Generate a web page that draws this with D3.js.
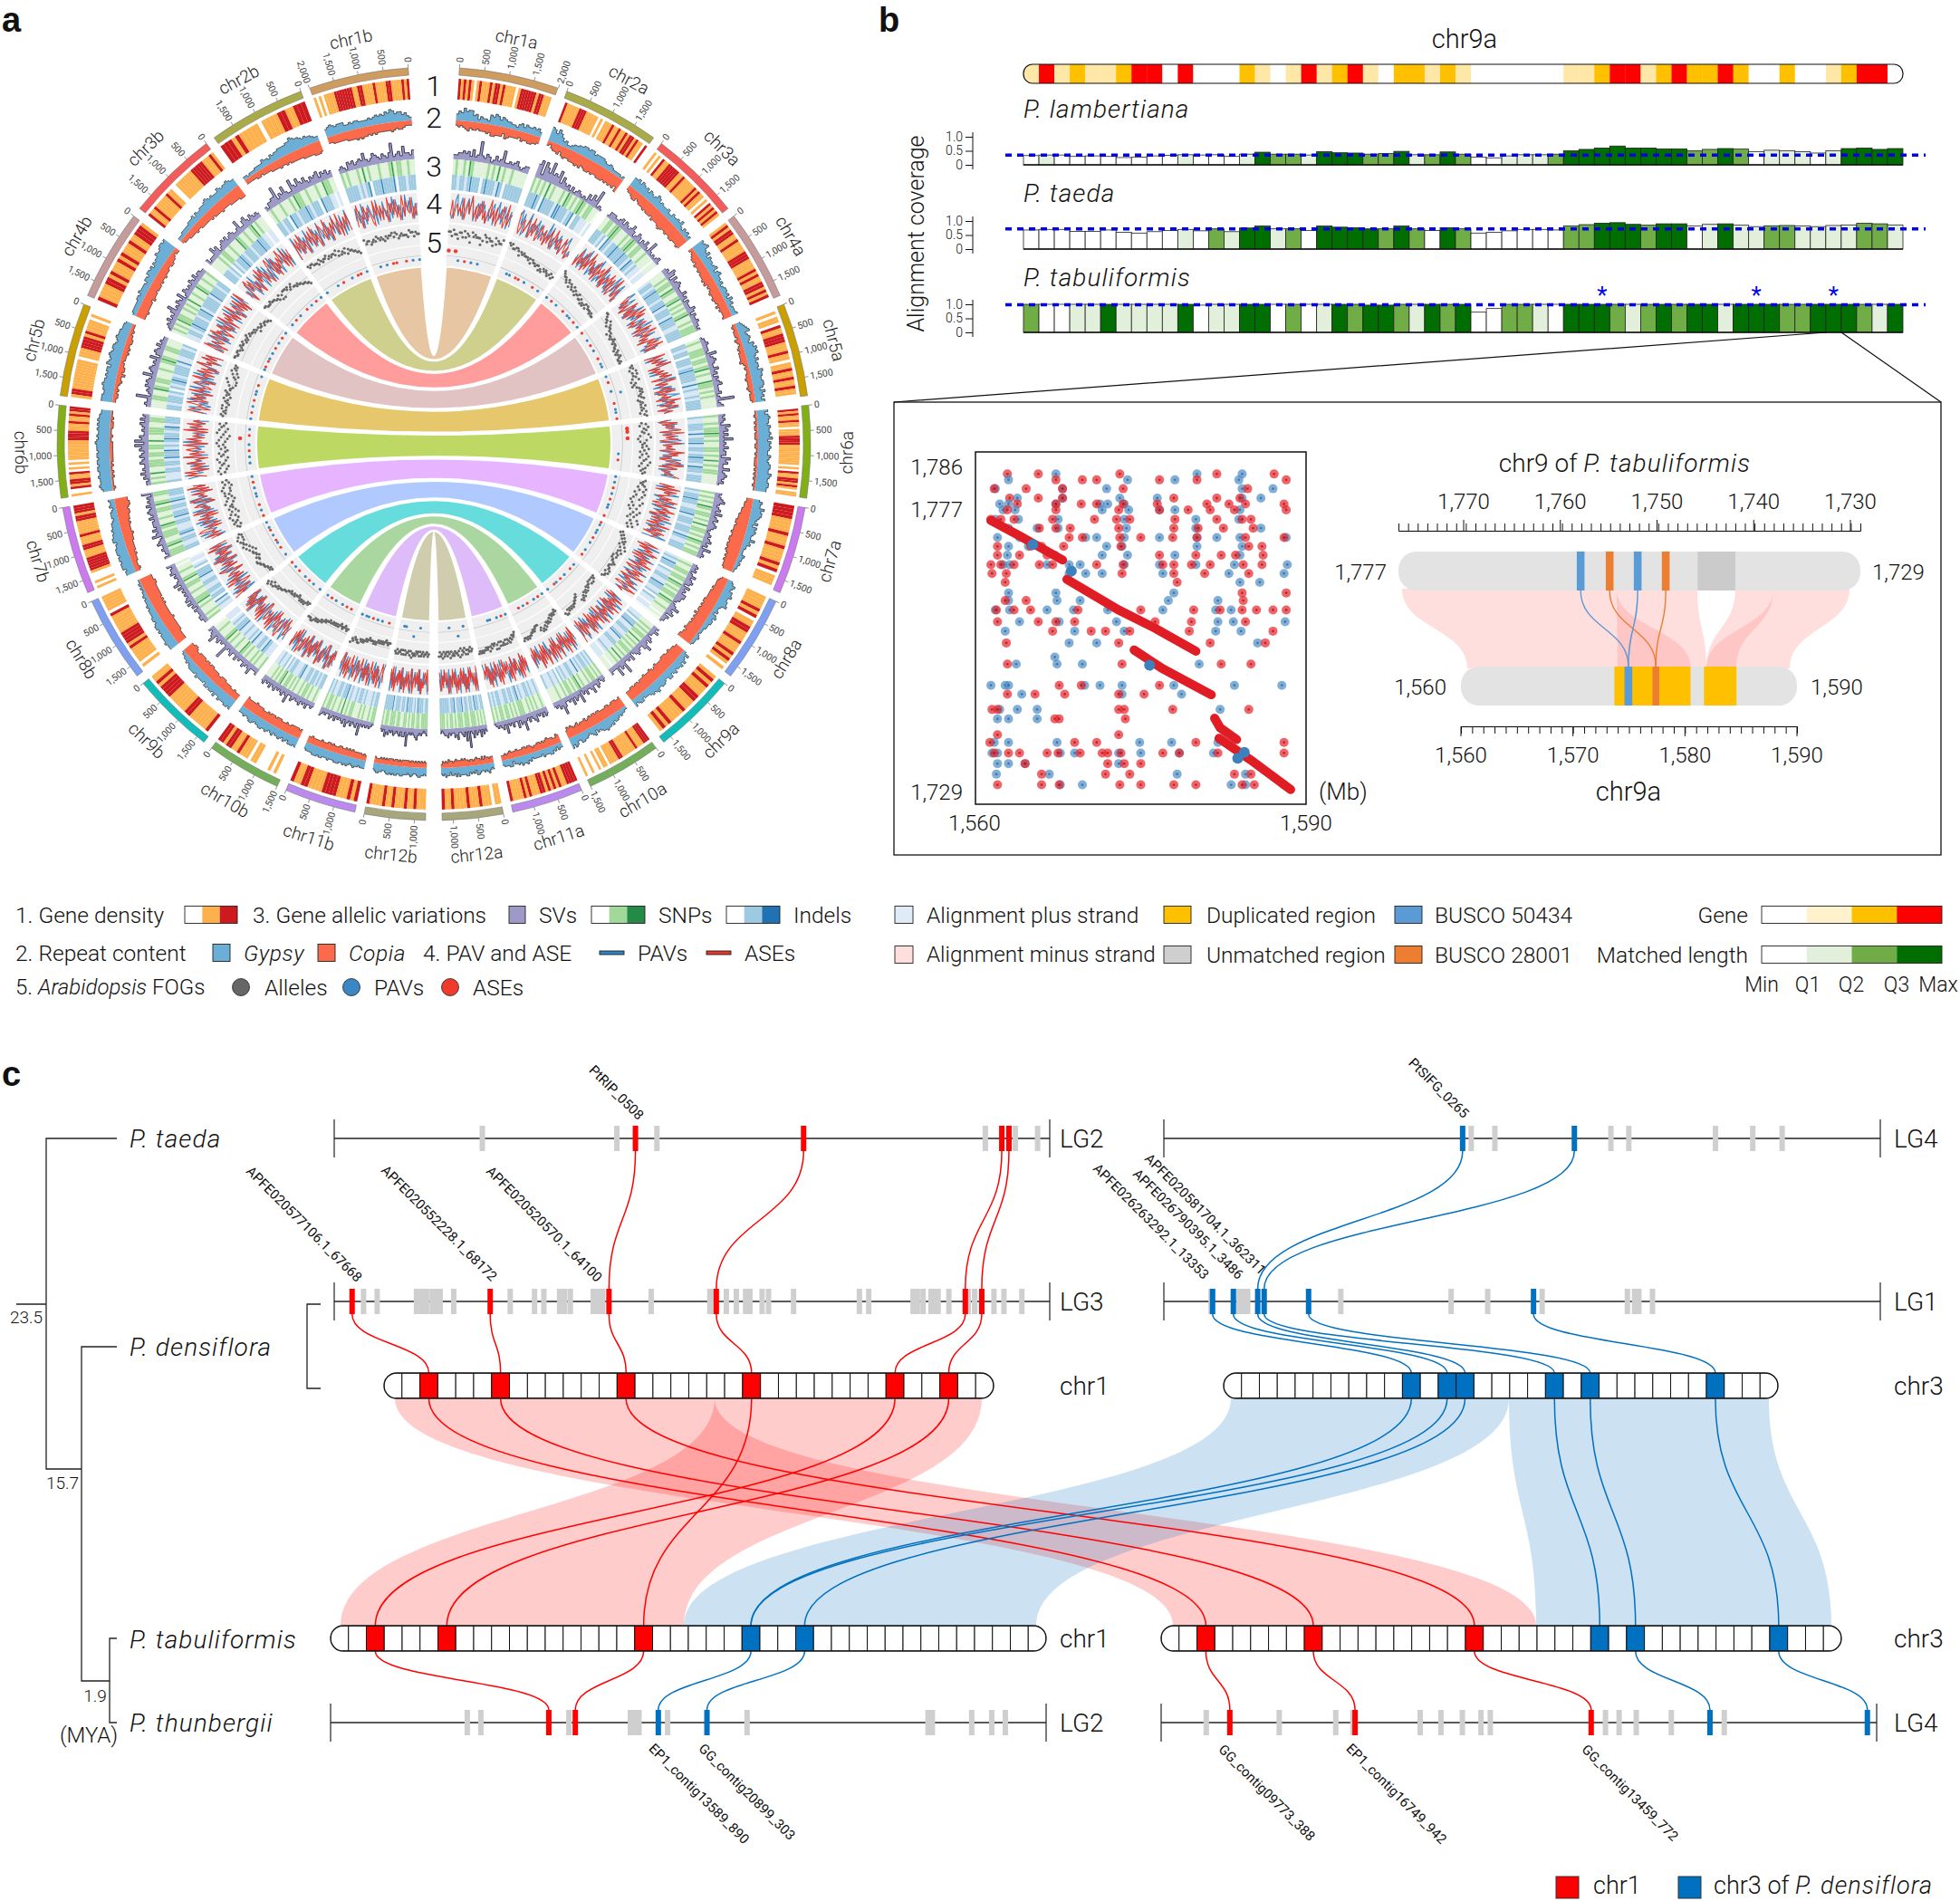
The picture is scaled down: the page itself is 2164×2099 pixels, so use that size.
<!DOCTYPE html>
<html><head><meta charset="utf-8">
<script src="https://cdnjs.cloudflare.com/ajax/libs/d3/7.8.5/d3.min.js"></script>
<style>html,body{margin:0;padding:0;background:#fff}svg{display:block}text{font-family:Roboto,"Liberation Sans",sans-serif;font-weight:300;fill:#111}</style>
</head><body><svg id="c" width="2164" height="2099"></svg>
<script>
// ---------- PANEL A DATA (one string per chromosome 1..12; each character = one bin, estimated by eye) ----------
const chrLengths=[1990,1950,1845,1820,1870,1845,1755,1730,1675,1505,1430,1220];
const chrTicks=[[0,500,1000,1500,2000],[0,500,1000,1500],[0,500,1000,1500],[0,500,1000,1500],[0,500,1000,1500],[0,500,1000,1500],[0,500,1000,1500],[0,500,1000,1500],[0,500,1000,1500],[0,500,1000,1500],[0,500,1000],[0,500,1000]];
const chrColors=["#CF9C60","#A9AA48","#F45B5B","#C59B9B","#C9A000","#82AE16","#CC7AF0","#7F9FF2","#12BDB9","#74AE5A","#BB8AEE","#A7A77B"];
const linkColors=["#E6C6A3","#CFCF8E","#FF9C9C","#E2C3C3","#E6C76C","#BDD963","#E7B5FF","#B0CAFF","#66DDDC","#AAD7A0","#DDBCF9","#CFCDAE"];
const geneA=["2121210121112122121111012222221221110","0211111222111110101112112112122121102","1010211222221121111121211010212121","1212211211112221111212112212120","0101102112221112110112112112110","0212112110111222211111111101021122121011","2222111121112111121201110","1111212011221112111212101","1212111221112111121210","222111211111122111101101001001","2222112121212211121211112","1101112111211112112"];
const geneB=["2121111221111211112211222222211110101","2221122111101111121222","1211122222111111100112111112112","1222112111212111212211112","0010111121222211101111111111221","2212112111222211111111010102112212001","22212211111211122111222221000101","111110211111122221211111010","112122221111112211111120","22122112111011000010100","2112211112222111212","2111121121112112111"];
const gypsyA=["465867745243326576465443324535445453","986975342234455665664555543343222212","667576564654576454445335445463243423","878965746554563564434234434253423334","345674565476878657566587766776475646","757877687787968787668767887798778877","465586776546365654474533222433232211","346546675566743342453443332221232221","253464655465466445665576565444355435","223343455465667665453654345566446757","334243554445344444354655645442554443","434654544566354546655556464553556454"];
const copiaA=["343456455455565776664765555465566554","324556467667778786788787788878787869","344566456667677768777898778778877787","323455465565666767565676676657565556","232333243234344445323223343334323332","112112122122211221121222212121211211","445556667778878889889989989878787776","456666767777788787887978787888978899","667778778887777876787778777677677666","766777667766667767767657666576567675","564455565454554434554554445444543433","443445353445434434454544454344534342"];
const gypsyB=["235466578675656545444455454466656765","334556567789776666554534453333222122","556766567555656765554453544433333222","989987786656465664553444453443333332","455566676567767876785776767787766777","667787878778789888788788788778777876","433423444345556566775667776776777566","112121223233343444455456656566667666","122334345555465555466566575576667767","444544566545566556545645565465466656","455556665665556555666556565456554555","456655445665656655665554565445665545"];
const copiaB=["333455456555555656566767666655555544","788877777666666565565555444434433333","888777776666766665655555544544443332","332344554455565565666566675666667666","222323344334343332334435334322323322","111212221112112222222221211212111121","889987887776766667666555554544433343","888998888888787877777778777777766666","778876677776776776666556665555445444","766666766665556566656665556556666656","445444445444554544455445454544444343","433343434344434434344444344343434343"];
const svA=["223343425239324312423722323421233","682864945472532313123212142538121","133322342432353124313242162121231","232541423432224231322243132232212","122322215234322423132342223128123","323215342426232423315342252343231","323453234252342343212323423152232","232312423431423244332123523413221","324221342364223432142322734262223","232134225322423162342523224734232","342423254324237342522423262432321","324252342532926243225342232433212"];
const svB=["423362432842342345323634324341232","324342543423534634722363428443312","232342354226322343243432143522213","223324234232342152342326423242321","223242343152323432623434232172232","324243232243626342342342232423122","513232423432423332423512342232213","423342322352423232342423132223322","323462342322832342242322432352223","342324234232342362243233423242232","432322432423234253242342723232321","232534232432342442832323453232123"];
const snpA=["1211213211111212131211211111","2121213121112132121232122110","1122123211121232122112111011","1112122132112312121231121222","1211222122123121132212121111","2112122321211221213121221111","2121213212212131221213212122","1211221221321212213211211010","1121212213121212212131211011","2121221211213212122121121111","1211212121122212121221221212","2121212221222122212122121222"];
const indelA=["2212212322202322213202222222","2223203222213322212302211101","2221203212232223221321211011","1221232221223122213222112222","2212202221232222131211212222","2112221312231221232213221222","2122322112231222122213211222","1213220211221132211202110110","1120223112211231122111210111","2121221213112211212021121112","1211212211213212212211221212","2212231221221322213221222222"];
const snpB=["1121122132111211121312111212","1122311211121122312111211121","1112132112112311121122121111","2112112311211312121122312121","1112211232112111221231122111","1221122211312212212221131212","2211231221121132122211231222","1011211231221121122312111212","0112111231211211321211212112","1112121231221212112122121121","2122121121312122111212112122","2122122212211221212212212222"];
const indelB=["2221222032222322203212122222","1011222302221232221223022122","1101122322212221232212021222","2212223122222132212223212211","2122211312222123212021222122","2221321223212132231221221112","2221231221223122111231221122","0110120222311221122122031211","1110121223112112131122132111","1121120212211123112212212122","2121122122312112122121112122","2222231222122132221213222122"];
const pavA=["3137925814683961572847316268159372846172","7948125916364837254619382516372416583142","5286172935841627395142681735261493725841","6925813471692538147263915724382516934172","2617384925161748395261738146925371648253","5127364815273681925361472518369247153627","3618274951362849137264815392746183527491","4719365281749253618472951637428159364725","3728159462738159264837152964738251693472","6183927451836294715283946172538491627384","4826173958264173859264317582649173825641","2938471625938174629385174263918472536184"];
const aseA=["2714635281473952617382514936271548319256","8315624731826513742615273184526317425123","4172538162947352816473925164827315942613","7362514826173958241673528149362517483926","1826374915263748159263471825361947285163","4172635819263714825361947251683917425368","2739184652739418265937148263519427381654","3816274952618374925613847296153748219635","2518463729158364729518463728195463827159","5172846392715384629173854692718394625173","3627194852637194825361749285163749281536","1849362517483926157384926175389264173852"];
const pavB=["2618374925163849271538462917358462917384","4927183562937418265391748256391748265391","5183927461538294716283951748263915748263","3719264815372918463729185463728196473825","2738164925138492716385492718364925138472","1625374816253749182536471925384716253948","5392817463928174639281746392817463592814","4829371658294716382947165382916473829516","3618472915364827196354827196358247169358","6827391548627391548263715948263719548267","4719283657491826375491826375941826375941","2938174625391847265389174265381947265389"];
const aseB=["6251834729516283749156273849126738451962","2847361925847163925784163928475163928471","7361825947361825974136285947136258497136","5916283471592638471952638417592683471592","1738264951738264951783264915738269451783","4628371915462837195486273915482637195842","7392618453792168453792618457326189453726","2849517362849157362984157362849513762849","6173849251673849215763849251763892451763","3825164973825619473825164973852164973825","5147382961547832961547382691547382965147","2618495372618459372681495372618495732618"];
const alleleA=["664755366474652756555247646553746557","767556653545444342433233121323212312","876654653543534233422312123132221211","887665746554243323432332213212321121","656475756473543567676567456575657467","463756457382635464753647365847365465","765674857384736283742638574638596475","435465767586976867575667876677868776","343535344546565767873445566767676887","323434354656576878674445656677878778","234354654646564647574546575656676767","453546463546374655465647546456475646"];
const alleleB=["556466745556546757665645656756546657","233445564756575867767687767867778878","122333445455765767774647566777877788","233443544535656676876768778767887788","656574635483736455765647565475756576","475637485263748574634756384756374857","574637484757463748565746375847567465","768696877685746355443544665544433232","786757665655544433233232212323232121","666776565654543433233232323212321232","756455664545434323334343232323212322","564655464646554647565645464654655465"];
const fogA=["R.Rb.r.b.b.....","..bb.rr.b..r.b.","b.r.b..r.bb.r.b","r..b.r.b..r.bb.","b.r..bB..r.bb.r",".RR.R....b.r...","b.b.r.b.r.bb..r","rb.bb.r.b..b.r.",".b.r..b.r.br..b","b.r.b..r.b.r...","b.r.b..bb......","..b..B...b....."];
const fogB=["b.b.r..rr.b.b..","b.rr.b..r.b...b","b.r.b.r..b.r.b.","b.r.b.r.b.br.rb","b..r.bb.r.b.r.b",".b.rR.b.r.b.b..","b.r.b.bb..r.b.r","b.br.b.rb.r..b.","r.b.r..b.r.b..b",".b.r.b..b.r.r..","b.bb.r.b.b..r..","..bb...B..b...."];

// ---------- PANEL B DATA ----------
const heat9a=[1,3,1,2,1,1,2,3,3,0,3,0,0,0,2,1,0,1,3,1,2,3,1,0,2,2,1,2,1,0,0,0,0,0,0,1,1,2,3,3,1,2,3,2,2,3,2,0,0,2,0,0,1,2,3,3,0];
const lambertianaValues=[.33,.35,.35,.3,.32,.3,.26,.27,.32,.34,.36,.35,.36,.3,.38,.45,.38,.38,.35,.47,.43,.42,.38,.4,.48,.36,.36,.46,.38,.27,.25,.32,.36,.36,.38,.5,.55,.6,.67,.6,.6,.57,.57,.5,.55,.58,.56,.47,.52,.5,.47,.42,.5,.58,.6,.55,.58];
const lambertianaClass=[0,1,0,0,0,0,0,0,0,0,1,0,0,0,1,3,2,2,1,3,3,3,2,2,3,1,2,3,2,0,0,1,1,1,2,3,3,3,3,3,3,3,3,2,2,3,2,0,1,1,1,0,1,3,3,3,3];
const taedaValues=[.68,.7,.7,.63,.63,.68,.6,.57,.62,.66,.7,.65,.72,.62,.75,.82,.72,.72,.66,.82,.78,.76,.72,.72,.82,.72,.66,.76,.72,.57,.6,.65,.7,.7,.68,.82,.87,.92,.94,.88,.85,.9,.9,.82,.88,.9,.85,.8,.83,.84,.82,.8,.84,.86,.92,.9,.86];
const taedaClass=[0,0,0,0,0,0,0,0,0,0,1,0,2,1,3,3,1,2,0,3,3,3,3,2,3,2,0,3,2,0,0,0,0,0,0,2,2,3,3,3,2,3,3,0,1,3,1,1,2,2,1,1,1,1,2,2,1];
const tabuliformisValues=[1,1,1,1,1,1,1,1,1,1,1,.97,1,1,1,1,1,1,1,1,1,1,.97,.97,1,1,1,1,1,.72,.85,1,1,1,1,1,1,1,1,1,1,1,1,1,1,1,1,1,1,1,1,1,1,1,1,1,1];
const tabuliformisClass=[2,0,0,1,1,3,1,1,1,1,3,0,1,1,3,3,0,2,0,1,3,2,3,3,2,1,3,2,3,0,0,2,2,1,0,3,3,3,2,1,2,3,2,3,3,1,3,3,3,2,2,3,3,3,2,1,3];
const starBins=[37,47,52];
const coverageThresholds=[.35,.72,.98];
// dot plot: [y Mb, red x Mb list, blue x Mb list]
const dotRows=[
[1783.1,[1562.9,1565.7,1573.1,1581.9,1587.1],[1567.3,1580.1,1584.2]],
[1782.1,[1569.7,1571,1567.3,1576.7,1580.1,1588.2],[1563,1573.8,1578.1,1583.9]],
[1780.6,[1561.7,1564.6,1567.9,1573.4,1584.7],[1561.8,1567.9,1571.9,1584.2,1587]],
[1779,[1563.1,1565.7,1567.9,1578,1581.9,1584],[1563.8,1567.9,1573.1,1576.5,1584.2,1585.9]],
[1778,[1563.8,1567.3,1569.6,1571,1573.4,1576.5,1581,1583,1584.5,1588],[1562.2,1563,1567.3,1571.3,1572,1573.5]],
[1777,[1562.9,1567.3,1573,1576.7,1579.3,1581.3,1583.5,1588.2],[1562.5,1563.6,1571.5,1573.9,1576.7,1578.1,1584]],
[1775.4,[1561.4,1562.3,1563.5,1567,1570.8,1572.8,1574,1578.1,1581.9,1584.2,1585],[1561.8,1563.9,1567.5,1573.5,1580,1583.9]],
[1773.9,[1565.8,1567.3,1568.6,1573,1578,1580.2,1582.5,1585.2],[1563,1565.6,1567.5,1573.7,1580,1585.9]],
[1772.3,[1568.5,1569.7,1573.1,1575,1577.9,1580.1,1584.5,1588],[1562,1564,1570,1571,1573.5,1576.7,1580.1,1581.9,1584,1588.2]],
[1770.8,[1562,1565,1566,1568,1573.2,1584.8,1586],[1563,1564.8,1571.9,1573.3,1580.1,1584.2]],
[1769.3,[1562,1564,1566.5,1576.7,1580,1582.3,1583.6,1586.1],[1562.9,1567.2,1571.5,1573.8,1578.1,1584]],
[1767.7,[1561.4,1562.3,1563.5,1565.8,1567,1571,1573.4,1577,1578,1579.6,1581.3,1584.3,1586],[1562.5,1563.1,1566.5,1568.5,1569.5,1573.5,1576.7,1580,1583.5,1588.3]],
[1766.2,[1561.5,1562.8,1573.3,1578,1580.8,1584.8],[1568.5,1570,1571.5,1577,1583,1588]],
[1764.7,[1562.7,1578.3],[1584,1585.8]],
[1762.9,[1584.2,1588.2],[1563,1567.3,1578]],
[1761.6,[1562.7,1564.6,1584.3],[1563,1567.4,1569.5,1577.5,1582]],
[1760,[1561.9,1563.5,1565,1569.3,1575,1579.8,1582.2,1584.2,1585.5,1587,1588.2],[1561.8,1563.1,1566.5,1568.9,1572,1577,1581.8,1583.2]],
[1758,[1562,1565.7,1567.3,1569,1576.3,1579.6,1584.5],[1564,1567.6,1572.8,1582,1583.4,1588.1]],
[1756.4,[1567,1570.5,1571.8,1574,1579.4,1587],[1562.7,1569,1573.5,1581.8,1584.1]],
[1754.4,[1562.8,1573,1581.3,1586.3],[1568.5,1571,1585.6]],
[1752,[],[1567.2]],
[1750.8,[1562.9,1573.3,1582.3,1585],[1563.7,1567.4,1569.7,1580.3]],
[1747.2,[1567.6,1569.6,1576.7],[1561.4,1562.7,1563,1569.9,1571.3,1573.3,1578,1583.5,1587.8]],
[1745.7,[1562.9,1565.4,1568.1,1573,1575.3],[1564.2,1573.3,1578.7]],
[1743.1,[1561.5,1562,1573,1573.5,1577.9,1584.8],[1563.8,1562.2,1565.6,1582.2]],
[1741.5,[1567.2,1567.6,1573.6],[1562,1563,1565.6]],
[1738.8,[1562,1573],[]],
[1737.5,[1561.3,1569,1571,1580,1588],[1561.7,1563,1567.4,1574.9,1577.8,1582]],
[1735.7,[1561.7,1563,1564,1566.5,1567.5,1569.5,1571.5,1572,1573.2,1577,1578.5,1582,1588],[1561.5,1562,1567.7,1569,1573,1575,1578.5,1581.6]],
[1733.9,[1564.5,1572,1573.5,1575],[1562,1563,1564.5,1573]],
[1732.1,[1566,1571.8,1574,1583.5,1585],[1561.9,1566.7,1578.3,1584.5]],
[1730.3,[1562,1566,1567.6,1573.1,1575,1578,1580,1584.2,1585.3],[1567.7,1569.7,1583.2,1584.5,1588]]];
// diagonal synteny blocks as [x,y] Mb pairs
const syntenySegments=[[[1561.4,1775.2],[1564,1772.6],[1567.9,1768.5]],[[1568.3,1765.2],[1573,1760],[1576.4,1756.8],[1580,1753]],[[1574.4,1753.2],[1577,1750],[1581.4,1745.6]],[[1581.7,1741.6],[1582.2,1740],[1583.7,1738]],[[1582.1,1738.2],[1585,1734.5],[1588.6,1729.5]]];
const syntenyBlobs=[[1565.2,1771.1],[1568.7,1766.6],[1575.8,1750.6],[1584.4,1735.8],[1583.8,1734.8]];
const topBusco=[[1758.3,1757.5,"#5B9BD5"],[1755.3,1754.5,"#ED7D31"],[1752.4,1751.6,"#5B9BD5"],[1749.5,1748.7,"#ED7D31"]];
const topUnmatched=[1745.8,1741.9];
const bottomDuplicated=[[1573.7,1580.5],[1581.7,1584.6]];
const bottomBusco=[[1574.6,1575.3,"#5B9BD5"],[1577.1,1577.7,"#ED7D31"]];

// ---------- PANEL C DATA (gene positions as % of linkage group, chromosome cells by index) ----------
const taedaLG2Grey=[20.7,39.5,45.1,91,95.2,98.3], taedaLG2Red=[42.1,65.6,93.3,94.3];
const taedaLG4Grey=[42.9,46.2,62.4,64.9,77,82.2,86.3], taedaLG4Blue=[41.7,57.3];
const densLG3Grey=[4.1,6,11.5,12.2,12.9,13.7,14.3,14.8,16.7,24.6,28,29.3,31.5,32.2,33,36.2,36.9,37.5,44.3,52.5,53.1,54.8,56.2,57.5,58.1,59.8,60.7,64.2,73.4,74.7,80.9,81.5,82.3,83.4,84,84.4,85.9,88.6,89.5,90.5,92.2,93.6,96.1], densLG3Red=[2.5,21.8,38.4,53.4,88.2,90.5];
const densLG1Grey=[6.6,10.5,11,11.7,24.7,40.1,45.2,52.8,64.7,65.7,66.3,68.2], densLG1Blue=[6.8,9.7,13.1,14,20.2,51.6];
const thunLG2Grey=[19.1,21,33.3,41.9,42.6,43.1,47.1,58.2,83.5,84.1,89.6,92.4,94.3], thunLG2Red=[30.5,34.2], thunLG2Blue=[45.8,52.6];
const thunLG4Grey=[6.3,16.5,24.4,26.8,36.2,39.1,42.1,44.7,46,62.1,64,66.4,71.3,78.7], thunLG4Red=[9.6,27.1,60.1], thunLG4Blue=[76.7,98.7];
const densChr1Cells=[2,6,13,20,28,31], densChr3Cells=[10,12,13,18,20,27];
const tabChr1Red=[2,6,17], tabChr1Blue=[23,26], tabChr3Red=[2,8,17], tabChr3Blue=[24,26,34];
const labelsTop=[["PtRIP_0508",708,1234],["APFE020577106.1_67668",397,1413],["APFE020552228.1_68172",546,1412],["APFE020520570.1_64100",662,1413],["PtSIFG_0265",1619,1232],["APFE020581704.1_362311",1395,1405],["APFE026790395.1_3486",1370,1410],["APFE026263292.1_13353",1332,1410]];
const labelsBottom=[["EP1_contig13589_890",719,1928],["GG_contig20899_303",774,1928],["GG_contig09773_388",1348,1929],["EP1_contig16749_942",1489,1928],["GG_contig13459_772",1749,1929]];

// ---------- DRAW ----------
const svg=d3.select("#c");
const RED="#FF0000",BLUE="#0070C0",GREY="#CFCFCF";
function T(g,x,y,s,o={}){const t=g.append("text").attr("x",x).attr("y",y).attr("dominant-baseline","central").attr("font-size",o.size||24).attr("text-anchor",o.anchor||"start");
 if(o.italic)t.attr("font-style","italic").style("letter-spacing",(o.spacing||1.1)+"px"); if(o.bold){t.style("font-weight",900).style("font-family","'Liberation Sans',sans-serif");} if(o.fill)t.style("fill",o.fill); if(o.weight)t.style("font-weight",o.weight);
 if(o.rotate!=null)t.attr("transform",`rotate(${o.rotate},${x},${y})`);
 if(Array.isArray(s))s.forEach(p=>{const ts=t.append("tspan").attr("font-style",p[1]?"italic":"normal").text(p[0]);if(p[1])ts.style("letter-spacing",(p[2]!=null?p[2]:1.1)+"px");}); else t.text(s); return t;}
T(svg,2,22,"a",{size:38,bold:1}); T(svg,970,22,"b",{size:38,bold:1}); T(svg,2,1186,"c",{size:38,bold:1});

// ---- panel a ----
const A=svg.append("g").attr("transform","translate(479,490)");
const degPerMb=0.0077,gapDeg=1.45,startDeg=3.9,tau=2*Math.PI,rad=d=>d*Math.PI/180;
const sectors=[];let cursor=startDeg;
chrLengths.forEach((L,i)=>{const s=cursor,e=cursor+L*degPerMb;sectors.push({i,L,s:rad(s),e:rad(e)});cursor=e+gapDeg;});
const sides=[{suffix:"a",mirror:false,gene:geneA,gyp:gypsyA,cop:copiaA,sv:svA,snp:snpA,ind:indelA,pav:pavA,ase:aseA,al:alleleA,fog:fogA},
             {suffix:"b",mirror:true ,gene:geneB,gyp:gypsyB,cop:copiaB,sv:svB,snp:snpB,ind:indelB,pav:pavB,ase:aseB,al:alleleB,fog:fogB}];
const arc=d3.arc();
const ar=(g,r0,r1,a0,a1,fill,extra)=>{const p=g.append("path").attr("d",arc({innerRadius:r0,outerRadius:r1,startAngle:Math.min(a0,a1),endAngle:Math.max(a0,a1)})).attr("fill",fill);if(extra)p.attr("stroke",extra).attr("stroke-width",.6);return p;};
const nums=s=>s.split("").map(Number);
const ribbon=d3.ribbon().radius(196);
sectors.forEach(s=>{A.append("path").attr("d",ribbon({source:{startAngle:s.s,endAngle:s.e},target:{startAngle:tau-s.e,endAngle:tau-s.s}})).attr("fill",linkColors[s.i]).attr("stroke","#fff").attr("stroke-width",2);});
const geneCol=["#FFFFFF","#FDB04B","#CC1A1F"],snpCol=["#F3FAF0","#E0F2DA","#A1D99B","#238B45"],indCol=["#F3F8FC","#D6E6F4","#9ECAE1","#2171B5"];
sides.forEach(side=>{sectors.forEach(sec=>{
  const i=sec.i,g=A.append("g");
  const ang=d3.scaleLinear().domain([0,sec.L]).range(side.mirror?[tau-sec.s,tau-sec.e]:[sec.s,sec.e]);
  const bin=(j,n)=>[ang(sec.L*j/n),ang(sec.L*(j+1)/n)];
  ar(g,408,416,ang(0),ang(sec.L),chrColors[i],"#777");
  chrTicks[i].forEach(v=>{const a=ang(v),deg=a*180/Math.PI;
    g.append("line").attr("x1",416*Math.sin(a)).attr("y1",-416*Math.cos(a)).attr("x2",420*Math.sin(a)).attr("y2",-420*Math.cos(a)).attr("stroke","#777").attr("stroke-width",.8);
    const px=422*Math.sin(a),py=-422*Math.cos(a),left=deg>180;
    T(g,px,py,d3.format(",")(v),{size:10.5,anchor:left?"end":"start",rotate:left?deg+90:deg-90,fill:"#444",weight:400});
  });
  const mid=(ang(0)+ang(sec.L))/2,md=mid*180/Math.PI,lr=456;
  let rot=md<90?md:(md<270?md-180:md-360);
  T(g,lr*Math.sin(mid),-lr*Math.cos(mid),"chr"+(i+1)+side.suffix,{size:19,anchor:"middle",rotate:rot,fill:"#222"});
  const gd=nums(side.gene[i]);gd.forEach((v,j)=>{const b=bin(j,gd.length);if(v>0)ar(g,381,404,b[0],b[1],geneCol[v]);});
  const rBase=358,vr=d3.scaleLinear().domain([0,9]).range([0,16]);
  const stepPts=a=>a.flatMap((v,j)=>{const b=bin(j,a.length);return[{a:b[0],v},{a:b[1],v}];});
  const wig=(a,dir,fill)=>{const pts=stepPts(a);const rf=d=>rBase+dir*vr(d.v);
    g.append("path").attr("d",d3.areaRadial().angle(d=>d.a).innerRadius(rBase).outerRadius(rf)(pts)).attr("fill",fill);
    g.append("path").attr("d",d3.lineRadial().angle(d=>d.a).radius(rf)(pts)).attr("fill","none").attr("stroke","#333").attr("stroke-width",.8);};
  wig(nums(side.gyp[i]),1,"#6BAED6"); wig(nums(side.cop[i]),-1,"#FB6A4A");
  const sv=nums(side.sv[i]),svPts=stepPts(sv),svr=d3.scaleLinear().domain([0,9]).range([315,338]);
  g.append("path").attr("d",d3.areaRadial().angle(d=>d.a).innerRadius(315).outerRadius(d=>svr(d.v))(svPts)).attr("fill","#9E9AC8");
  g.append("path").attr("d",d3.lineRadial().angle(d=>d.a).radius(d=>svr(d.v))(svPts)).attr("fill","none").attr("stroke","#34344E").attr("stroke-width",1);
  const stripes=(str,r0,r1,cols)=>{const a=nums(str);a.forEach((v,j)=>{const b=bin(j,a.length);ar(g,r0,r1,b[0],b[1],cols[v===3?2:v]);if(v===3){const w=b[1]-b[0];ar(g,r0,r1,b[0]+w*.3,b[0]+w*.65,cols[3]);}});};
  stripes(side.snp[i],298,315,snpCol); stripes(side.ind[i],281,298,indCol);
  ar(g,245,278,ang(0),ang(sec.L),"#EFEFEF");
  const tr=d3.scaleLinear().domain([0,9]).range([246,277]);
  const line4=(a,c)=>{const pts=a.map((v,j)=>({a:ang(sec.L*(j+.5)/a.length),v}));g.append("path").attr("d",d3.lineRadial().angle(d=>d.a).radius(d=>tr(d.v))(pts)).attr("fill","none").attr("stroke",c).attr("stroke-width",1.05);};
  line4(nums(side.pav[i]),"#3B87C4"); line4(nums(side.ase[i]),"#EE3B2E");
  ar(g,220,243,ang(0),ang(sec.L),"#EFEFEF");ar(g,197,219,ang(0),ang(sec.L),"#EFEFEF");
  ar(g,231,231.6,ang(0),ang(sec.L),"#BBB");ar(g,208,208.6,ang(0),ang(sec.L),"#BBB");
  const alr=d3.scaleLinear().domain([0,9]).range([221,242]);
  const al=nums(side.al[i]);al.forEach((v,j)=>{const a=ang(sec.L*(j+.5)/al.length),r=alr(v);g.append("circle").attr("cx",r*Math.sin(a)).attr("cy",-r*Math.cos(a)).attr("r",1.5).attr("fill","#666");});
  side.fog[i].split("").forEach((c,j,arr)=>{if(c===".")return;const a=ang(sec.L*(j+.5)/arr.length),r=(c===c.toUpperCase())?214:204;g.append("circle").attr("cx",r*Math.sin(a)).attr("cy",-r*Math.cos(a)).attr("r",(c==="R")?2.2:1.6).attr("fill",c.toLowerCase()==="r"?"#EE3B2E":"#3B87C4");});
});});
[["1",95],["2",130],["3",184],["4",225],["5",268]].forEach(d=>T(svg,479,d[1],d[0],{size:32,anchor:"middle"}));

// ---- panel b ----
const B=svg.append("g");
const binX=d3.scaleLinear().domain([0,57]).range([1130,2101]);
const heatCol=["#FFFFFF","#FFE7A8","#FFC000","#FF0000"],greenCol=["#FFFFFF","#E2EFDA","#70AD47","#006E00"];
T(B,1617,43,"chr9a",{size:29,anchor:"middle"});
B.append("clipPath").attr("id","hc").append("rect").attr("x",1130).attr("y",71).attr("width",971).attr("height",21).attr("rx",10);
const hg=B.append("g").attr("clip-path","url(#hc)");
heat9a.forEach((v,i)=>hg.append("rect").attr("x",binX(i)).attr("y",71).attr("width",binX(1)-binX(0)+.3).attr("height",21).attr("fill",heatCol[v]));
B.append("rect").attr("x",1130).attr("y",71).attr("width",971).attr("height",21).attr("rx",10).attr("fill","none").attr("stroke","#111").attr("stroke-width",1.2);
const covTracks=[{name:"P. lambertiana",ly:120,y0:182,vals:lambertianaValues,cls:lambertianaClass,th:coverageThresholds[0]},
                 {name:"P. taeda",ly:213,y0:275,vals:taedaValues,cls:taedaClass,th:coverageThresholds[1]},
                 {name:"P. tabuliformis",ly:306,y0:367,vals:tabuliformisValues,cls:tabuliformisClass,th:coverageThresholds[2]}];
covTracks.forEach(t=>{
  T(B,1130,t.ly,t.name,{size:28,italic:1});
  const y=d3.scaleLinear().domain([0,1]).range([t.y0,t.y0-31]);
  t.vals.forEach((v,i)=>B.append("rect").attr("x",binX(i)).attr("y",y(v)).attr("width",binX(1)-binX(0)).attr("height",y(0)-y(v)).attr("fill",greenCol[t.cls[i]]).attr("stroke","#222").attr("stroke-width",.8));
  B.append("line").attr("x1",1130).attr("x2",2101).attr("y1",t.y0).attr("y2",t.y0).attr("stroke","#111").attr("stroke-width",1.4);
  const ax=B.append("g").attr("transform","translate(1074,0)").call(d3.axisLeft(y).tickValues([0,.5,1]).tickSize(8).tickFormat(d=>d===0?"0":d.toFixed(1)));
  ax.selectAll("text").attr("font-size",14).attr("dy",".32em"); ax.selectAll("path,line").attr("stroke","#111");
  ax.select(".domain").attr("d",`M-0,${y(1)-5}V${y(0)+5}`);
  B.append("line").attr("x1",1110).attr("x2",2126).attr("y1",y(t.th)).attr("y2",y(t.th)).attr("stroke","#0000E6").attr("stroke-width",3.5).attr("stroke-dasharray","7 6");
});
T(B,1011,258,"Alignment coverage",{size:25,anchor:"middle",rotate:-90});
starBins.forEach(b=>T(B,binX(b+.5),326,"*",{size:26,anchor:"middle",fill:"#0000E6"}).style("font-weight",400));
B.append("path").attr("d","M2016,367L987,444M2033,367L2143,444").attr("stroke","#111").attr("fill","none").attr("stroke-width",1.2);
B.append("rect").attr("x",987).attr("y",444).attr("width",1156).attr("height",500).attr("fill","none").attr("stroke","#111").attr("stroke-width",1.3);
const dx=d3.scaleLinear().domain([1560,1590]).range([1077,1442]), dy=d3.scaleLinear().domain([1729,1777]).range([875,563]);
B.append("rect").attr("x",1077).attr("y",499).attr("width",365).attr("height",389).attr("fill","none").attr("stroke","#111").attr("stroke-width",1.5);
const dot=(x,y,c,c2)=>{B.append("circle").attr("cx",dx(x)).attr("cy",dy(y)).attr("r",5).attr("fill",c).attr("fill-opacity",.7);B.append("circle").attr("cx",dx(x)).attr("cy",dy(y)).attr("r",1.4).attr("fill",c2).attr("fill-opacity",.7);};
dotRows.forEach(r=>{r[2].forEach(x=>dot(x,r[0],"#4A8BC4","#2A5F95"));r[1].forEach(x=>dot(x,r[0],"#E8222A","#A01018"));});
const synLine=d3.line().x(d=>dx(d[0])).y(d=>dy(d[1]));
syntenySegments.forEach(s=>B.append("path").attr("d",synLine(s)).attr("fill","none").attr("stroke","#E01C24").attr("stroke-width",10).attr("stroke-linecap","round"));
syntenyBlobs.forEach(p=>B.append("circle").attr("cx",dx(p[0])).attr("cy",dy(p[1])).attr("r",6).attr("fill","#3C80BE"));
[["1,786",516],["1,777",563],["1,729",875]].forEach(d=>T(B,1063,d[1],d[0],{size:24,anchor:"end"}));
T(B,1076,909,"1,560",{size:24,anchor:"middle"});T(B,1442,909,"1,590",{size:24,anchor:"middle"});T(B,1456,874,"(Mb)",{size:26});
const tx=d3.scaleLinear().domain([1730,1770]).range([2043,1616]), bx=d3.scaleLinear().domain([1560,1590]).range([1613,1984]);
T(B,1794,511,[["chr9 of "],["P. tabuliformis",1]],{size:28,anchor:"middle"});
const vRibbon=(x0,x1,y0,x2,x3,y1)=>{const m=(y0+y1)/2,p=d3.path();p.moveTo(x0,y0);p.bezierCurveTo(x0,m,x2,m,x2,y1);p.lineTo(x3,y1);p.bezierCurveTo(x3,m,x1,m,x1,y0);p.closePath();return p.toString();};
[[1548,1874,1620,1884],[1916,2042,1884,1976]].forEach(r=>B.append("path").attr("d",vRibbon(r[0],r[1],650,r[2],r[3],738)).attr("fill","#FFDEDE"));
[[1785,1785,1786,1867],[1958,1958,1884,1917]].forEach(r=>B.append("path").attr("d",vRibbon(r[0],r[1],650,r[2],r[3],738)).attr("fill","#FF9A9A").attr("fill-opacity",.35));
const barRect=(x0,x1,y,h,c)=>B.append("rect").attr("x",x0).attr("y",y).attr("width",x1-x0).attr("height",h).attr("fill",c);
B.append("rect").attr("x",1544).attr("y",609).attr("width",510).attr("height",43).attr("rx",20).attr("fill","#E3E3E3");
barRect(tx(topUnmatched[0]),tx(topUnmatched[1]),609,43,"#CBCBCB");
topBusco.forEach(b=>barRect(tx(b[0]),tx(b[1]),609,43,b[2]));
B.append("rect").attr("x",1613).attr("y",736).attr("width",371).attr("height",43).attr("rx",20).attr("fill","#E3E3E3");
bottomDuplicated.forEach(b=>barRect(bx(b[0]),bx(b[1]),736,43,"#FFC000"));
bottomBusco.forEach(b=>barRect(bx(b[0]),bx(b[1]),736,43,b[2]));
const lv=d3.linkVertical().x(d=>d[0]).y(d=>d[1]);
topBusco.forEach((b,i)=>{const tgt=bottomBusco[i%2];B.append("path").attr("d",lv({source:[tx((b[0]+b[1])/2),652],target:[bx((tgt[0]+tgt[1])/2),736]})).attr("fill","none").attr("stroke",b[2]).attr("stroke-width",1.4);});
const topAxis=d3.axisTop(d3.scaleLinear().domain([1777,1729]).range([1544,2054])).tickValues(d3.range(1729,1778)).tickSize(8).tickFormat("");
B.append("g").attr("transform","translate(0,586)").call(topAxis);
d3.range(1730,1771,10).forEach(v=>{B.append("line").attr("x1",tx(v)).attr("x2",tx(v)).attr("y1",586).attr("y2",574).attr("stroke","#111");T(B,tx(v),554,d3.format(",")(v),{size:24,anchor:"middle"});});
const botAxis=d3.axisBottom(bx).tickValues(d3.range(1560,1591)).tickSize(8).tickFormat("");
B.append("g").attr("transform","translate(0,802)").call(botAxis);
d3.range(1560,1591,10).forEach(v=>{B.append("line").attr("x1",bx(v)).attr("x2",bx(v)).attr("y1",802).attr("y2",813).attr("stroke","#111");T(B,bx(v),834,d3.format(",")(v),{size:24,anchor:"middle"});});
B.selectAll(".tick line").attr("stroke","#111");
T(B,1531,632,"1,777",{size:24,anchor:"end"});T(B,2067,632,"1,729",{size:24});T(B,1597,759,"1,560",{size:24,anchor:"end"});T(B,1999,759,"1,590",{size:24});
T(B,1798,874,"chr9a",{size:29,anchor:"middle"});

// ---- legends ----
const L=svg.append("g"),S=24.5;
const swatch=(x,y,w,h,cols)=>{const cw=w/cols.length;cols.forEach((c,i)=>L.append("rect").attr("x",x+i*cw).attr("y",y-h/2).attr("width",cw).attr("height",h).attr("fill",c));
  L.append("rect").attr("x",x).attr("y",y-h/2).attr("width",w).attr("height",h).attr("fill","none").attr("stroke","#222").attr("stroke-width",.9);};
const y1=1010,y2=1052,y3=1090;
T(L,17,y1,"1. Gene density",{size:S});swatch(204,y1,58,19,["#FFFFFF","#FDB04B","#CC1A1F"]);
T(L,279,y1,"3. Gene allelic variations",{size:S});swatch(562,y1,18,19,["#9E9AC8"]);T(L,595,y1,"SVs",{size:S});
swatch(653,y1,59,19,["#FFFFFF","#A1D99B","#238B45"]);T(L,727,y1,"SNPs",{size:S});swatch(802,y1,59,19,["#FFFFFF","#9ECAE1","#2171B5"]);T(L,876,y1,"Indels",{size:S});
T(L,17,y2,"2. Repeat content",{size:S});swatch(235,y2,19,19,["#6BAED6"]);T(L,269,y2,"Gypsy",{size:S,italic:1,spacing:.6});swatch(351,y2,19,19,["#FB6A4A"]);T(L,385,y2,"Copia",{size:S,italic:1,spacing:.6});
T(L,467,y2,"4. PAV and ASE",{size:S});swatch(662,y2,27,4,["#3182BD"]);T(L,704,y2,"PAVs",{size:S});swatch(780,y2,27,4,["#E6352B"]);T(L,822,y2,"ASEs",{size:S});
T(L,17,y3,[["5. "],["Arabidopsis",1,0],[" FOGs"]],{size:S-.5});
[[266,"#666"],[388,"#3B87C4"],[497,"#EE3B2E"]].forEach(d=>L.append("circle").attr("cx",d[0]).attr("cy",y3).attr("r",9.5).attr("fill",d[1]).attr("stroke","#222").attr("stroke-width",.8));
T(L,292,y3,"Alleles",{size:S});T(L,413,y3,"PAVs",{size:S});T(L,522,y3,"ASEs",{size:S});
swatch(988,y1,20,19,["#DFEBF7"]);T(L,1023,y1,"Alignment plus strand",{size:S});swatch(1285,y1,30,19,["#FFC000"]);T(L,1332,y1,"Duplicated region",{size:S});swatch(1540,y1,30,19,["#5B9BD5"]);T(L,1584,y1,"BUSCO 50434",{size:S});
swatch(988,1054,20,19,["#FFDEDE"]);T(L,1023,1054,"Alignment minus strand",{size:S-.3});swatch(1285,1054,30,19,["#CFCFCF"]);T(L,1332,1054,"Unmatched region",{size:S});swatch(1540,1054,30,19,["#ED7D31"]);T(L,1584,1054,"BUSCO 28001",{size:S});
T(L,1930,y1,"Gene",{size:S,anchor:"end"});swatch(1945,y1,199,19,["#FFFFFF","#FFF2CC","#FFC000","#FF0000"]);
T(L,1930,1054,"Matched length",{size:S,anchor:"end"});swatch(1945,1054,199,19,greenCol);
[["Min",1945],["Q1",1996],["Q2",2044],["Q3",2094],["Max",2140]].forEach(d=>T(L,d[1],1087,d[0],{size:23,anchor:"middle"}));

// ---- panel c ----
const C=svg.append("g");
const densC1={x0:424,x1:1097,y0:1516,y1:1544,n:34},densC3={x0:1351,x1:1963,y0:1516,y1:1544,n:31};
const tabC1={x0:365,x1:1155,y0:1795,y1:1823,n:40},tabC3={x0:1282,x1:2033,y0:1795,y1:1823,n:38};
[[436,789,1295,1696,"#FF0000"],[789,1084,376,755,"#FF0000"],[1359,1666,755,1144,"#0070C0"],[1666,1953,1696,2022,"#0070C0"]].forEach(r=>
  C.append("path").attr("d",vRibbon(r[0],r[1],1544,r[2],r[3],1795)).attr("fill",r[4]).attr("fill-opacity",.2));
const lgScales={L:d3.scaleLinear().domain([0,100]).range([369,1159]),R:d3.scaleLinear().domain([0,100]).range([1285,2076]),tL:d3.scaleLinear().domain([0,100]).range([365,1155]),tR:d3.scaleLinear().domain([0,100]).range([1282,2072])};
const lg=(sc,y,grey,reds,blues)=>{const r=sc.range();C.append("line").attr("x1",r[0]).attr("x2",r[1]).attr("y1",y).attr("y2",y).attr("stroke","#222").attr("stroke-width",1.5);
  [r[0],r[1]].forEach(x=>C.append("line").attr("x1",x).attr("x2",x).attr("y1",y-21).attr("y2",y+21).attr("stroke","#222").attr("stroke-width",1.2));
  const mk=(a,c)=>a.forEach(v=>C.append("rect").attr("x",sc(v)-3).attr("y",y-14).attr("width",6).attr("height",28).attr("fill",c));
  mk(grey,GREY);mk(reds,RED);mk(blues,BLUE);};
const chrom=(ch,reds,blues)=>{const x=d3.scaleLinear().domain([0,ch.n]).range([ch.x0,ch.x1]),id="cp"+ch.x0+ch.y0,h=ch.y1-ch.y0;
  C.append("clipPath").attr("id",id).append("rect").attr("x",ch.x0).attr("y",ch.y0).attr("width",ch.x1-ch.x0).attr("height",h).attr("rx",14);
  const g=C.append("g").attr("clip-path",`url(#${id})`);
  d3.range(ch.n).forEach(i=>g.append("rect").attr("x",x(i)).attr("y",ch.y0).attr("width",x(1)-x(0)).attr("height",h).attr("fill",reds.includes(i)?RED:blues.includes(i)?BLUE:"#fff").attr("stroke","#111").attr("stroke-width",1));
  C.append("rect").attr("x",ch.x0).attr("y",ch.y0).attr("width",ch.x1-ch.x0).attr("height",h).attr("rx",14).attr("fill","none").attr("stroke","#111").attr("stroke-width",1.4);};
const L1=lgScales.L,R1=lgScales.R,tL=lgScales.tL,tR=lgScales.tR;
const link=(x0,y0,x1,y1,c)=>C.append("path").attr("d",lv({source:[x0,y0],target:[x1,y1]})).attr("fill","none").attr("stroke",c).attr("stroke-width",1.5);
const cellX=ch=>i=>d3.scaleLinear().domain([0,ch.n]).range([ch.x0,ch.x1])(i+.5);
const dc1=cellX(densC1),dc3=cellX(densC3),tc1=cellX(tabC1),tc3=cellX(tabC3);
[[0,2],[1,3],[2,4],[3,5]].forEach(p=>link(L1(taedaLG2Red[p[0]]),1271,L1(densLG3Red[p[1]]),1423,RED));
[[0,2],[1,3]].forEach(p=>link(R1(taedaLG4Blue[p[0]]),1271,R1(densLG1Blue[p[1]]),1423,BLUE));
densLG3Red.forEach((v,i)=>link(L1(v),1451,dc1(densChr1Cells[i]),1516,RED));
densLG1Blue.forEach((v,i)=>link(R1(v),1451,dc3(densChr3Cells[i]),1516,BLUE));
[[0,tabChr3Red[0],1],[1,tabChr3Red[1],1],[2,tabChr3Red[2],1],[3,tabChr1Red[2],0],[4,tabChr1Red[0],0],[5,tabChr1Red[1],0]].forEach(p=>link(dc1(densChr1Cells[p[0]]),1544,p[2]?tc3(p[1]):tc1(p[1]),1795,RED));
[[0,tabChr1Blue[0],0],[1,tabChr1Blue[0],0],[2,tabChr1Blue[1],0],[3,tabChr3Blue[0],1],[4,tabChr3Blue[1],1],[5,tabChr3Blue[2],1]].forEach(p=>link(dc3(densChr3Cells[p[0]]),1544,p[2]?tc3(p[1]):tc1(p[1]),1795,BLUE));
[[tabChr1Red[0],thunLG2Red[0],RED],[tabChr1Red[2],thunLG2Red[1],RED],[tabChr1Blue[0],thunLG2Blue[0],BLUE],[tabChr1Blue[1],thunLG2Blue[1],BLUE]].forEach(p=>link(tc1(p[0]),1823,tL(p[1]),1888,p[2]));
[[tabChr3Red[0],thunLG4Red[0],RED],[tabChr3Red[1],thunLG4Red[1],RED],[tabChr3Red[2],thunLG4Red[2],RED],[tabChr3Blue[1],thunLG4Blue[0],BLUE],[tabChr3Blue[2],thunLG4Blue[1],BLUE]].forEach(p=>link(tc3(p[0]),1823,tR(p[1]),1888,p[2]));
lg(L1,1257,taedaLG2Grey,taedaLG2Red,[]);lg(R1,1257,taedaLG4Grey,[],taedaLG4Blue);
lg(L1,1437,densLG3Grey,densLG3Red,[]);lg(R1,1437,densLG1Grey,[],densLG1Blue);
lg(tL,1902,thunLG2Grey,thunLG2Red,thunLG2Blue);lg(tR,1902,thunLG4Grey,thunLG4Red,thunLG4Blue);
chrom(densC1,densChr1Cells,[]);chrom(densC3,[],densChr3Cells);chrom(tabC1,tabChr1Red,tabChr1Blue);chrom(tabC3,tabChr3Red,tabChr3Blue);
[["LG2",1257],["chr1",1530],["LG3",1437],["chr1",1809],["LG2",1902]].forEach(d=>T(C,1170,d[1],d[0],{size:28}));
[["LG4",1257],["chr3",1530],["LG1",1437],["chr3",1809],["LG4",1902]].forEach(d=>T(C,2091,d[1],d[0],{size:28}));
[["P. taeda",1257],["P. densiflora",1487],["P. tabuliformis",1810],["P. thunbergii",1902]].forEach(d=>T(C,143,d[1],d[0],{size:28,italic:1}));
labelsTop.forEach(d=>T(C,d[1],d[2],d[0],{size:15,anchor:"end",rotate:45,weight:400}));
labelsBottom.forEach(d=>T(C,d[1],d[2],d[0],{size:15,rotate:45,weight:400}));
C.append("path").attr("d","M129,1257H51V1622H90M18,1440H51M129,1487H90V1856H121M129,1809H121V1902H129M354,1440H339V1533H354").attr("fill","none").attr("stroke","#222").attr("stroke-width",1.3);
T(C,29,1454,"23.5",{size:19,anchor:"middle"});T(C,69,1637,"15.7",{size:19,anchor:"middle"});T(C,105,1872,"1.9",{size:19,anchor:"middle"});T(C,98,1916,"(MYA)",{size:24,anchor:"middle"});
C.append("rect").attr("x",1718).attr("y",2072).attr("width",25).attr("height",24).attr("fill",RED).attr("stroke","#333");
T(C,1759,2082,"chr1",{size:27});
C.append("rect").attr("x",1853).attr("y",2072).attr("width",25).attr("height",24).attr("fill",BLUE).attr("stroke","#333");
T(C,1892,2082,[["chr3 of "],["P. densiflora",1]],{size:27});
</script></body></html>
